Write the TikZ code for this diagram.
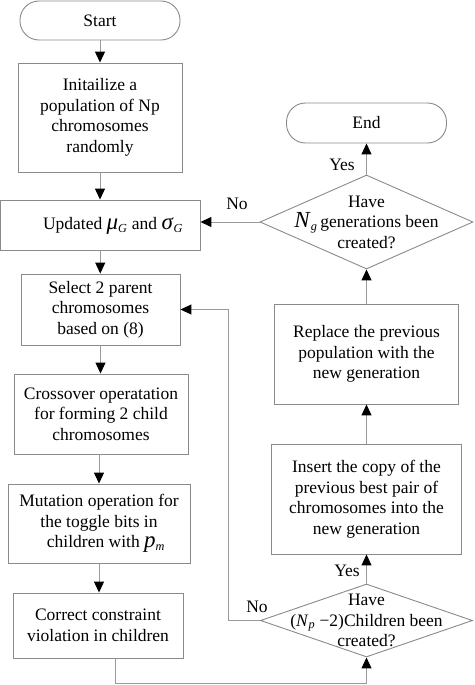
\documentclass[tikz,border=0pt]{standalone}
\usepackage{fontspec}
\setmainfont{Liberation Serif}
\usetikzlibrary{arrows.meta,shapes.geometric}
\definecolor{boxgray}{HTML}{8A8A8A}
\definecolor{linegray}{HTML}{9A9A9A}
\newcommand\fs{\fontsize{17.5}{20.5}\selectfont}
\newcommand\bigit[1]{{\fontsize{23}{20}\selectfont\textit{#1}}}
\begin{document}
\begin{tikzpicture}[x=1pt,y=-1pt,
  box/.style={draw=boxgray, line width=0.9pt, inner sep=0pt, align=center, font=\fs},
  term/.style={box, rounded corners=19pt},
  dia/.style={draw=boxgray, line width=0.9pt, diamond, inner sep=0pt},
  txt/.style={align=center, font=\fs, inner sep=0pt},
  arr/.style={draw=linegray, line width=1pt, -{Triangle[length=11pt,width=10pt,color=black]}},
  ln/.style={draw=linegray, line width=1pt}]
\useasboundingbox (0,0) rectangle (474,685);
% left column
\node[term, minimum width=160pt, minimum height=39pt] (start) at (100,20.5) {Start};
\node[box, minimum width=164pt, minimum height=109pt] (init) at (100,117.5) {Initailize a\\population of Np\\chromosomes\\randomly};
\node[box, minimum width=199.5pt, minimum height=50pt] (upd) at (100.25,225) {};
\node[txt] (updt) at (113,226) {Updated \bigit{μ}\textsubscript{\textit{G}} and \bigit{σ}\textsubscript{\textit{G}}};
\node[box, minimum width=159pt, minimum height=71pt] (sel) at (100.5,309.5) {Select 2 parent\\chromosomes\\based on (8)};
\node[box, minimum width=174pt, minimum height=80pt] (cross) at (101,414) {Crossover operatation\\for forming 2 child\\chromosomes};
\node[box, minimum width=182pt, minimum height=79pt] (mut) at (99,523.5) {Mutation operation for\\the toggle bits in\\\hspace*{14pt}children with \bigit{p}\textsubscript{\textit{m}}};
\node[box, minimum width=170pt, minimum height=65pt] (corr) at (98,625.5) {Correct constraint\\violation in children};
% right column
\node[term, minimum width=160pt, minimum height=40pt] (endn) at (366.5,123) {End};
\node[dia, minimum width=213pt, minimum height=94pt] (d1) at (366.5,222) {};
\node[txt] (d1t) at (366.5,222) {Have\\\bigit{N}\textsubscript{\textit{g}}\,generations been\\created?};
\node[box, minimum width=184pt, minimum height=100pt] (rep) at (366.5,354) {Replace the previous\\population with the\\new generation};
\node[box, minimum width=190pt, minimum height=110pt] (ins) at (366.5,499) {Insert the copy of the\\previous best pair of\\chromosomes into the\\new generation};
\node[dia, minimum width=212pt, minimum height=73pt] (d2) at (366.5,620.5) {};
\node[txt] (d2t) at (366.5,620.5) {Have\\(\textit{N}\textsubscript{\textit{p}} −2)Children been\\created?};
% labels
\node[txt] (yes1) at (342,165) {Yes};
\node[txt] (yes2) at (347,571) {Yes};
\node[txt] (no1) at (237,204) {No};
\node[txt] (no2) at (257,607) {No};
% connectors
\draw[arr] (start.south) -- (init.north);
\draw[arr] (init.south) -- (init.south |- upd.north);
\draw[arr] (upd.south) -- (upd.south |- sel.north);
\draw[arr] (sel.south) -- (sel.south |- cross.north);
\draw[arr] ([xshift=-2pt]cross.south) -- ([xshift=-2pt]cross.south |- mut.north);
\draw[arr] (mut.south) -- (mut.south |- corr.north);
\draw[arr] ([xshift=17pt]corr.south) -- ++(0,25) -| (d2.south);
\draw[arr] (d2.west) -- ++(-32,0) |- (sel.east);
\draw[arr] (d2.north) -- (ins.south);
\draw[arr] (ins.north) -- (rep.south);
\draw[arr] (rep.north) -- (d1.south);
\draw[arr] (d1.north) -- (endn.south);
\draw[arr] (d1.west) -- (d1.west -| upd.east);
\end{tikzpicture}
\end{document}
